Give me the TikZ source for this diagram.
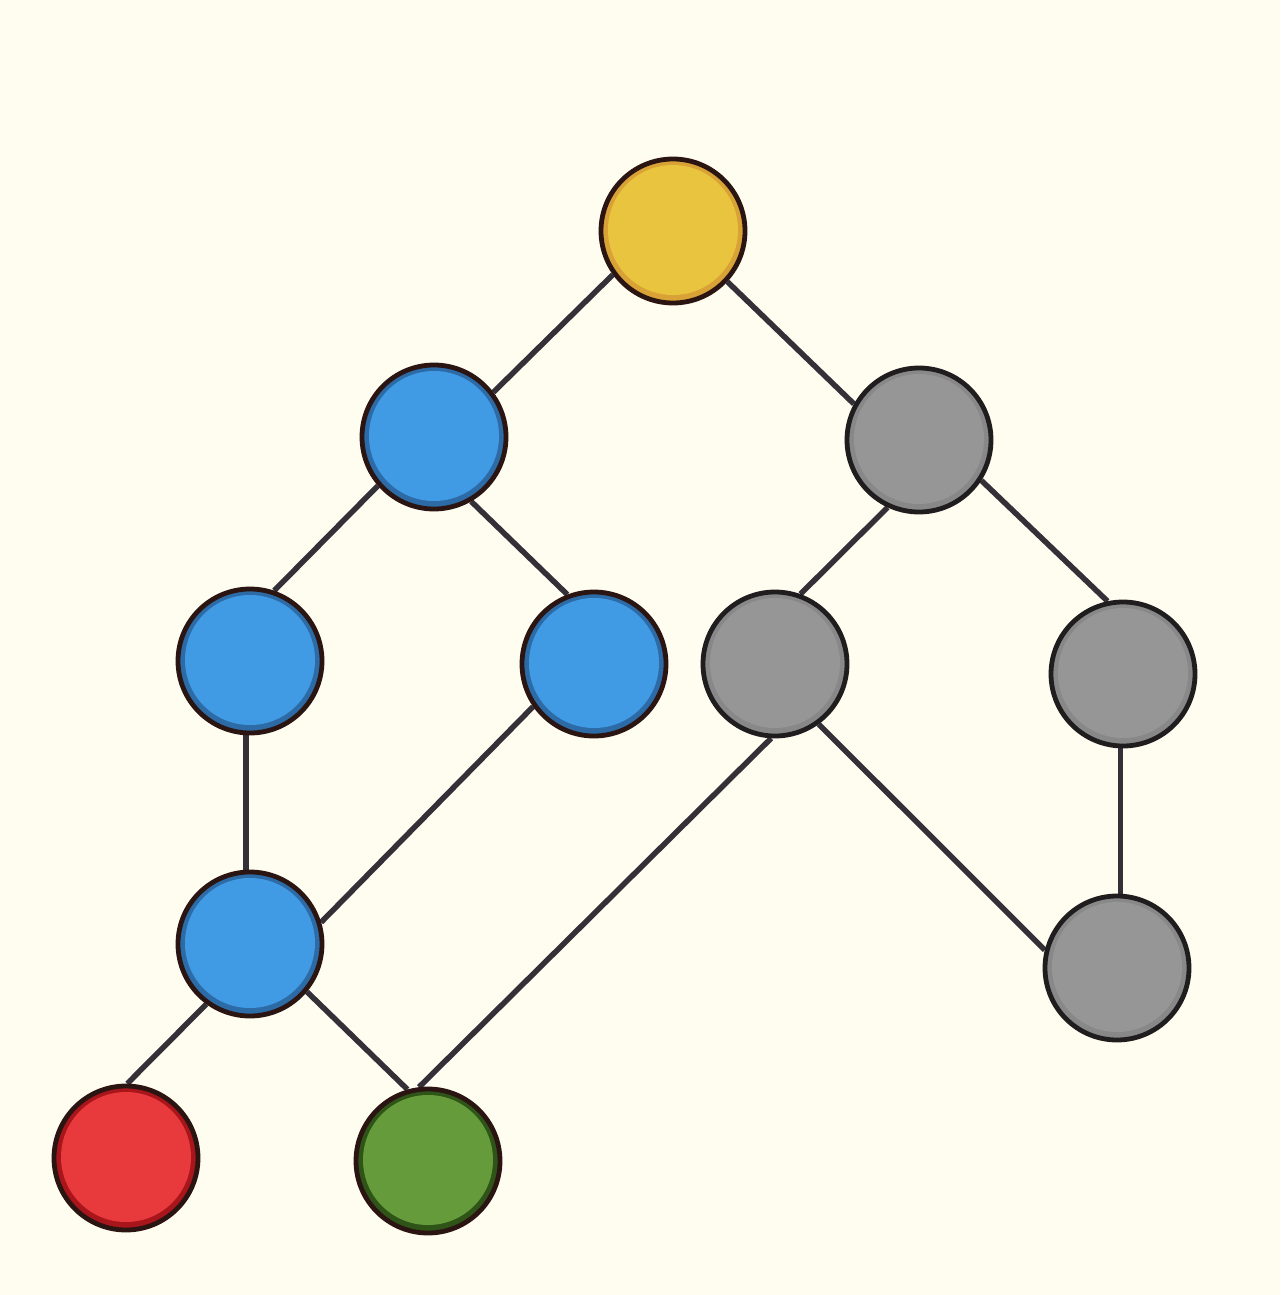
\documentclass[tikz,border=0pt]{standalone}
\pgfdeclarelayer{bg}
\pgfdeclarelayer{edges}
\pgfsetlayers{bg,edges,main}
\definecolor{bgc}{HTML}{FFFDF0}
\definecolor{edgec}{HTML}{333038}
\definecolor{bord}{HTML}{2A1512}
\definecolor{gbord}{HTML}{1F1D1E}
\definecolor{yf}{HTML}{E9C43F}\definecolor{yr}{HTML}{D9A236}
\definecolor{bf}{HTML}{419BE4}\definecolor{br}{HTML}{2D6BA6}
\definecolor{gf}{HTML}{969696}\definecolor{gr}{HTML}{888888}
\definecolor{rf}{HTML}{E83A3D}\definecolor{rr}{HTML}{A8151A}
\definecolor{nf}{HTML}{659B3A}\definecolor{nr}{HTML}{2F5418}
\tikzset{
  vtx/.style n args={3}{circle, minimum size=144pt, inner sep=0pt, draw=#3, line width=4.8pt, fill=#2,
    path picture={\fill[#1] ([shift={(0pt,1pt)}]path picture bounding box.center) circle (65pt);}},
  link/.style={draw=edgec, line width=5.5pt}
}
\begin{document}
\begin{tikzpicture}[x=1pt,y=-1pt]
\begin{pgfonlayer}{bg}
\fill[bgc] (0,0) rectangle (1280,1295);
\end{pgfonlayer}
\useasboundingbox (0,0) rectangle (1280,1295);
\node[vtx={yf}{yr}{bord}] (y) at (673,231) {};
\node[vtx={bf}{br}{bord}] (b1) at (434,437) {};
\node[vtx={gf}{gr}{gbord}] (g1) at (919,440) {};
\node[vtx={bf}{br}{bord}] (b2) at (250,661) {};
\node[vtx={bf}{br}{bord}] (b3) at (594,664) {};
\node[vtx={gf}{gr}{gbord}] (g2) at (775,664) {};
\node[vtx={gf}{gr}{gbord}] (g3) at (1123,674) {};
\node[vtx={bf}{br}{bord}] (b4) at (250,944) {};
\node[vtx={gf}{gr}{gbord}] (g4) at (1117,968) {};
\node[vtx={rf}{rr}{bord}] (r) at (126,1158) {};
\node[vtx={nf}{nr}{bord}] (n) at (428,1161) {};
\begin{pgfonlayer}{edges}
\draw[link] (y.216.7) -- (b1.37.6);
\draw[link] (y.317.5) -- (g1.151.7);
\draw[link] (b1.221.7) -- (b2.71.7);
\draw[link] (b1.300.2) -- (b3.111.2);
\draw[link] (g1.245.3) -- (g2.70.5);
\draw[link] (g1.327.5) -- (g3.102.7);
\draw[link] (b2.267.6) -- (b2.267.6 |- b4.north);
\draw[link] (b3.215.9) -- (b4.17.5);
\draw[link] (g2.267.7) -- (n.97.6);
\draw[link] (g2.306.1) -- (g4.166);
\draw[link] (g3.268.4) -- (g3.268.4 |- g4.north);
\draw[link] (b4.234.9) -- (r.89.5);
\draw[link] (b4.320.7) -- (n.106.7);
\end{pgfonlayer}
\end{tikzpicture}
\end{document}
